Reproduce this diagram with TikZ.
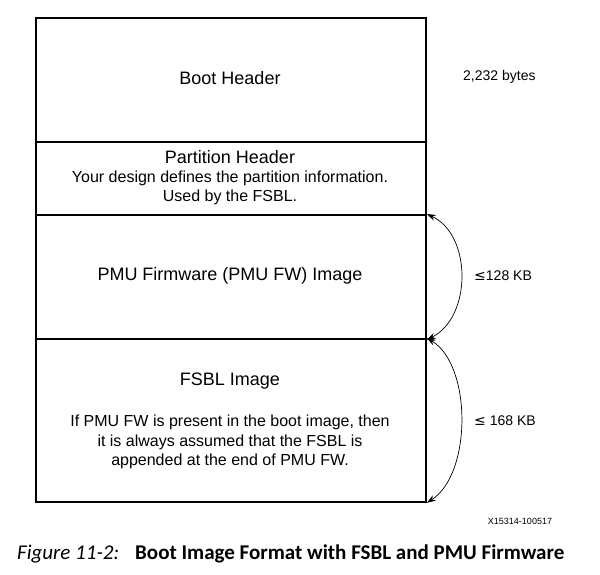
\documentclass[tikz,border=0pt]{standalone}
\usepackage{fontspec}
\setmainfont{Liberation Sans}
\newfontfamily\capfont{Carlito}
\newfontfamily\symfont{DejaVu Sans}
\usetikzlibrary{arrows.meta}
\begin{document}
\begin{tikzpicture}[x=1pt,y=-1pt,
  sect/.style={draw=black,line width=1.8pt,minimum width=390pt,inner sep=0pt,anchor=north west},
  title/.style={font=\fontsize{18}{21}\selectfont,align=center,inner sep=0pt},
  desc/.style={font=\fontsize{16}{19.5}\selectfont,align=center,inner sep=0pt},
  side/.style={font=\fontsize{14}{17}\selectfont,inner sep=0pt,anchor=west},
  span/.style={{Stealth[length=9pt,width=6pt]}-{Stealth[length=9pt,width=6pt]},line width=0.7pt}]
\useasboundingbox (0,0) rectangle (600,575);
\fill[white] (0,0) rectangle (600,575);
% sections
\node[sect,minimum height=124pt] (boot) at (35,17) {};
\node[sect,minimum height=73pt] (part) at (35,141) {};
\node[sect,minimum height=124pt] (pmu) at (35,214) {};
\node[sect,minimum height=163pt] (fsbl) at (35,338) {};
% texts
\node[title] (tboot) at (230,78) {Boot Header};
\node[title] (tpart) at (230,157) {Partition Header};
\node[desc] (dpart) at (230,188) {Your design defines the partition information.\\Used by the FSBL.};
\node[title] (tpmu) at (230,276) {PMU Firmware (PMU FW) Image};
\node[title] (tfsbl) at (230,381) {FSBL Image};
\node[desc] (dfsbl) at (230,442) {If PMU FW is present in the boot image, then\\it is always assumed that the FSBL is\\appended at the end of PMU FW.};
% side labels
\node[side] (lboot) at (463,77) {2,232 bytes};
\node[side] (lpmu) at (474,276) {{\symfont\fontsize{14}{15}\selectfont≤}128 KB};
\node[side] (lfsbl) at (474,421) {{\symfont\fontsize{14}{15}\selectfont≤} 168 KB};
% arcs
\draw[span] (pmu.north east) .. controls (472,235) and (472,317) .. (pmu.south east);
\draw[span] (fsbl.north east) .. controls (472,365) and (472,474) .. (fsbl.south east);
% figure id and caption
\node[font=\fontsize{9}{11}\selectfont,inner sep=0pt] (fid) at (520,521) {X15314-100517};
\node[anchor=west,inner sep=0pt,font=\capfont\fontsize{21}{24}\selectfont] (cap) at (17,554) {\textit{Figure 11-2:}\hspace{16pt}\textbf{Boot Image Format with FSBL and PMU Firmware}};
\end{tikzpicture}
\end{document}
